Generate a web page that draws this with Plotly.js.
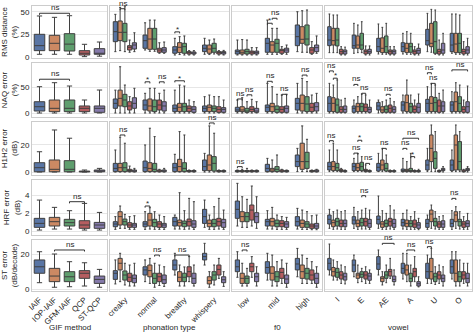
<!DOCTYPE html>
<html><head><meta charset="utf-8">
<script src="https://cdn.plot.ly/plotly-3.0.1.min.js"></script>
<style>html,body{margin:0;padding:0;background:#fff}#chart{width:474px;height:333px}</style>
</head><body><div id="chart"></div>
<script>
const methods = ['IAIF','IOP-IAIF','GFM-IAIF','QCP','ST-QCP'];
const phonation = ['creaky','normal','breathy','whispery'];
const f0 = ['low','mid','high'];
const vowels = ['I','E','AE','A','U','O'];
const factorLabels = ['GIF method','phonation type','f0','vowel'];
const metricLabels = ['RMS distance<br>(%)','NAQ error<br>(%)','H1H2 error<br>(dB)','HRF error<br>(dB)','ST error<br>(dB/decade)'];
const rmsTicks = [0,25,50];
const naqTicks = [0,50];
const h12Ticks = [0,20];
const hrfTicks = [0,2,4];
const stTicks = [0,20];

// each box: [lower whisker, q1, median, q3, upper whisker]
const rms_gif = [[3.3,7.3,12.8,25.3,45.5],[3.3,7.3,15.4,24.2,44],[3.3,6.9,14.5,26,45.8],[0.7,2.5,4.4,7.3,14.3],[1.2,3.3,4.4,9.5,16.8]];
const rms_phon = [
 [[6.2,17.2,28.2,39.2,47.3],[7.3,18.3,27.5,40,55],[6.2,17.2,27.5,37.4,55.7],[5.5,8,11,12.8,19],[6.2,9.1,13.5,16,27]],
 [[8,9.9,18.3,24.5,38],[6.6,8.8,20.1,31.9,41],[6.6,8.8,20.1,31.9,41],[4.4,5.5,8,9.9,16],[4.4,5.5,8,10.6,16.8]],
 [[2.5,4.4,8,11.7,20.9],[3,5.1,11,16.1,22.7],[2.5,4.4,11.7,15.4,23.5],[2.5,3.6,5.1,6.2,7.3],[2.5,3.6,4.6,5.8,7.3]],
 [[3.3,6.2,9.9,13.5,20.9],[3,4.4,9.1,13.5,19],[3.6,5.5,9.9,15.4,20.1],[2.5,3.6,5.1,6.2,7.3],[2.5,3.6,5.1,6.2,7.6]]];
const rms_f0 = [
 [[2.5,3.6,6.2,8,19],[2.5,3.6,5.5,8,19.5],[2.5,3.6,6.2,8.8,19],[2.5,3.6,5.5,6.8,10.6],[2.5,3.6,5.1,6.8,10.6]],
 [[3.3,5.5,15.4,20.9,41],[3.3,5.5,13.5,17.2,31.9],[3.3,5.5,15.4,19.8,31.9],[3.3,4.4,7.3,8.8,11.7],[3.3,5.5,8,10,13.5]],
 [[6.2,12.8,22.7,35.6,50.2],[5.5,15.4,19.8,33.7,51.3],[5.5,13.5,20.1,35.6,52.1],[3.3,4.4,8,10.6,17.2],[4.4,6.2,10.6,13.5,23.5]]];
const rms_vowel = [
 [[5.1,12.8,19,33.7,47.7],[5.1,13.5,18.3,31.9,46.6],[5.1,12.5,19,31.9,46.6],[2.5,3.6,6.2,8.8,11.7],[2.5,3.6,6.2,8,11.2]],
 [[4.4,9.9,12.8,24.5,37.4],[5.1,9.9,13.5,23.5,35.6],[5.1,8.8,13.5,26.4,39.2],[2.5,3.6,6.2,8,12.5],[2.5,4.4,6.2,8.8,12.5]],
 [[3.6,6.2,11.7,20.9,36.7],[3.3,5.1,9.9,21.4,33],[3.3,5.1,11.7,23.5,37.4],[2.5,3.6,6.2,8,11.7],[2.5,3.6,6.2,8,11.7]],
 [[3.6,6.2,11.7,16.1,26.4],[3.3,5.1,9.9,15.4,28.2],[3.3,5.5,11.7,15.4,26.4],[2.5,3.6,6.2,8,11.7],[2.5,4.4,7.3,9.9,14.6]],
 [[6.2,13.5,18.3,30.8,48.4],[5.5,11.7,15.4,37.4,52.8],[3.3,4.4,17.2,39.2,52.1],[2.5,3.6,6.2,8.8,19],[2.5,4.4,8,15.4,26.4]],
 [[4.4,6.2,13.5,26.4,47.7],[3.3,5.1,14.6,26.4,47.7],[3.3,5.1,15.4,26.4,46.6],[2.5,3.6,6.2,8.8,17.2],[2.5,4.4,8,11.7,20.9]]];

const naq_gif = [[0,3.8,12.1,21.7,50.6],[0,2.6,9,25,58.3],[0,2.6,9,25,51.9],[0,2.6,9,13.5,25],[0,1.3,9,13.5,44.2]];
const naq_phon = [
 [[0,9,18.6,27,44],[0,13.5,28.2,44,89],[0,12.1,25,35.9,53.8],[0,5.8,13.5,21.7,31.4],[0,9,18.6,29.4,47.5]],
 [[0,5.8,15.4,25,37.9],[0,3.8,13.5,27,47.5],[0,2.6,12.1,25,47.5],[0,5.8,15.4,25,37.9],[0,3.8,13.5,21.7,44]],
 [[0,2.6,9,15.4,44],[0,2.6,11,18.6,53.8],[0,2.6,12.1,18.6,51.9],[0,2.6,9,13.5,25],[0,1.3,7,12.1,21.7]],
 [[0,2.6,9,13.5,31.4],[0,2.6,11,15.4,34.6],[0,2.6,9,13.5,31.4],[0,1.3,7,12.1,31.4],[0,1.3,7,10.3,25]]];
const naq_f0 = [
 [[0,2.6,5.8,11,25],[0,2.6,5.8,12.1,29.4],[0,1.3,3.8,9,21.7],[0,2.6,7,12.1,26.3],[0,1.3,3.8,9,21.7]],
 [[0,2.6,11,15.4,57],[0,2.6,12.1,18.6,50.6],[0,1.3,7,13.5,36],[0,1.3,7,12.1,34.6],[0,1.3,9,13.5,36]],
 [[0,5.8,18.6,28.2,57],[0,3.8,18.6,34.6,66.7],[0,2.6,17.3,31.4,60.3],[0,2.6,11,18.6,34.6],[0,3.8,12.1,19.9,37.8]]];
const naq_vowel = [
 [[0,2.6,18.6,31.4,57],[0,2.6,18.6,29.4,53.8],[0,1.3,15.4,27,63.5],[0,1.3,7,12.1,25],[0,1.3,7,13.5,28.2]],
 [[0,1.3,9,13.5,25],[0,2.6,12.1,18.6,31.4],[0,2.6,12.1,18.6,36.5],[0,2.6,11,17.3,34.6],[0,1.3,7,11,25]],
 [[0,5.8,13.5,20.5,25],[0,1.3,5.8,12.1,21.7],[0,1.3,7,13.5,25],[0,1.3,9,15.4,28.2],[0,1.3,7,12.1,21.7]],
 [[0,3.8,15.4,21.7,34.6],[0,2.6,19.9,34.6,63.5],[0,1.3,12.1,18.6,34.6],[0,1.3,7,13.5,25],[0,1.3,11,18.6,36.5]],
 [[0,2.6,18.6,26.3,50.6],[0,2.6,18.6,31.4,57],[0,2.6,19.9,30,53.8],[0,1.3,13.5,25,37.8],[0,2.6,13.5,21.7,44.2]],
 [[0,2.6,15.4,21.7,41],[0,2.6,21.7,40.4,58.3],[0,2.6,18.6,31.4,53.8],[0,1.3,7,12.1,25],[0,1.3,12.1,21.7,51.9]]];

const h12_gif = [[0,0.2,3.2,6.9,15],[0,0.2,2,8.9,31.1],[0,0.2,2,8.4,25],[0,0.1,0.3,0.7,1.5],[0,0.2,0.8,1.5,2.7]];
const h12_phon = [
 [[0,0.3,2.7,6.4,16.3],[0,0.3,3.2,6.4,25.7],[0,0.3,3.2,6.9,21.3],[0,0.3,1.1,2,4.4],[0,0.2,0.8,1.5,2.7]],
 [[0,0.3,3.2,8.1,20],[0,0.3,2.7,6.9,32.4],[0,0.3,2,6.4,26.2],[0,0.2,0.8,1.5,2],[0,0.2,0.8,1.5,2.7]],
 [[0,0.3,3.2,6.4,13.1],[0,0.3,4,9.4,29.9],[0,0.3,2.7,6.9,27.4],[0,0.2,0.6,1.1,1.5],[0,0.2,0.6,1.1,1.5]],
 [[0,1,4,8.9,13.8],[0,1,5.2,12.6,34.1],[0,0.7,6.4,11.4,28.7],[0,0.2,0.6,1.1,1.5],[0,0.2,0.6,1.1,1.5]]];
const h12_f0 = [
 [[0,0.2,0.6,1.1,1.5],[0,0.2,0.6,1.1,2],[0,0.2,0.6,1.1,2.7],[0,0.2,0.6,1.1,1.5],[0,0.2,0.6,1.1,1.5]],
 [[0,0.3,2.7,5.7,10.1],[0,0.3,1.5,2.7,8.9],[0,0.3,2,4,12.6],[0,0.2,0.8,1.5,2],[0,0.2,0.6,1.1,1.5]],
 [[0.3,4,7.7,12.6,17.5],[0.3,2,7.7,21.3,34.1],[0.3,2.7,7.7,14.6,24.2],[0,0.2,0.6,1.1,1.5],[0,0.2,0.8,1.5,2]]];
const h12_vowel = [
 [[0.3,1.5,4,7.2,16.3],[0.3,1,4,7.7,21.3],[0.3,1,3.2,6.4,16.3],[0,0.3,1.1,2,2.7],[0,0.2,0.6,1.1,1.5]],
 [[0.3,1,4,6.4,10.1],[0.3,1,3.2,6.4,13.8],[0.3,1,4,7.2,11.4],[0,0.3,1.1,2,5.2],[0,0.2,0.6,1.1,1.5]],
 [[0.3,0.7,3.5,6.4,13.8],[0.3,1.5,5.2,8.9,17.5],[0.3,0.7,2.7,6.4,12.6],[0,0.2,0.6,1.1,1.5],[0,0.2,0.6,1.1,1.5]],
 [[0,0.3,1,2.2,10.1],[0,0.3,1,2,7.7],[0,0.3,1,2.7,13.8],[0,0.2,0.6,1.1,1.5],[0,0.2,0.6,1.1,2]],
 [[0.3,1.5,5.2,8.9,17.5],[0.3,7.7,17.5,27.4,34.8],[0.3,2.7,10.1,15,29.9],[0,0.2,0.6,1.1,1.5],[0,1,1.5,2.7,4]],
 [[0.3,1,5.2,8.9,16.3],[0.3,1.5,20,27.4,34.8],[0.3,1.5,7.7,22.5,29.9],[0,0.2,0.6,1.5,2],[0,1,1.5,2.7,4]]];

const hrf_gif = [[0.11,0.41,0.85,1.41,3.44],[0.22,0.56,1.04,1.52,2.63],[0.22,0.56,0.93,1.3,2.26],[0.11,0.3,0.67,1.15,3.07],[0.11,0.3,0.67,0.96,2.07]];
const hrf_phon = [
 [[0.19,0.48,0.78,1.04,1.6],[0.3,0.67,1.6,2.15,2.78],[0.3,0.67,1.04,1.33,1.85],[0.19,0.41,0.67,0.93,1.6],[0.19,0.41,0.67,0.85,1.7]],
 [[0.19,0.48,0.78,1.04,2.15],[0.22,0.56,1.22,1.96,2.59],[0.19,0.48,0.93,1.3,2.15],[0.19,0.41,0.78,1.04,1.78],[0.19,0.41,0.67,0.85,1.6]],
 [[0.22,0.56,1.04,1.52,1.78],[0.22,0.56,0.93,1.22,4.26],[0.19,0.48,0.85,1.11,2.26],[0.22,0.56,1.04,1.33,3.63],[0.19,0.41,0.78,1.15,3.26]],
 [[0.41,0.85,1.6,2.41,3.44],[0.19,0.48,0.85,1.22,1.78],[0.19,0.48,0.85,1.3,2.7],[0.22,0.56,1.04,1.41,3.63],[0.19,0.41,0.93,1.3,2.33]]];
const hrf_f0 = [
 [[0.56,1.41,2.41,3.33,5.3],[0.41,1.04,1.6,2.15,3.81],[0.41,1.04,1.6,2.04,3.52],[0.56,1.22,2.33,2.89,5],[0.3,0.93,1.6,2.04,3.81]],
 [[0.22,0.56,1.04,1.3,2.26],[0.22,0.56,1.04,1.41,2.63],[0.19,0.48,0.85,1.22,1.78],[0.19,0.48,0.85,1.15,1.6],[0.19,0.41,0.78,1.04,1.52]],
 [[0.22,0.56,1.04,1.6,2.52],[0.19,0.41,0.85,1.22,2.33],[0.19,0.41,0.78,1.04,2.15],[0.15,0.3,0.56,0.78,1.7],[0.15,0.3,0.56,0.85,1.78]]];
const hrf_vowel = [
 [[0.3,0.78,1.3,1.78,2.41],[0.19,0.48,0.93,1.22,2.15],[0.22,0.56,1.04,1.41,2.33],[0.19,0.48,0.85,1.22,2.15],[0.19,0.48,0.85,1.22,2.26]],
 [[0.3,0.78,1.22,1.6,2.63],[0.19,0.48,0.85,1.22,2.15],[0.22,0.56,0.93,1.41,2.33],[0.22,0.56,1.04,1.41,2.52],[0.19,0.41,0.85,1.3,2.33]],
 [[0.3,0.78,1.3,1.67,3.89],[0.19,0.41,0.78,1.04,2.26],[0.19,0.48,0.85,1.22,1.96],[0.22,0.56,1.04,1.41,2.81],[0.19,0.41,0.85,1.3,2.33]],
 [[0.22,0.56,0.93,1.3,1.96],[0.19,0.48,0.85,1.22,2.33],[0.19,0.48,0.85,1.15,1.6],[0.19,0.41,0.78,1.22,2.15],[0.15,0.3,0.67,0.93,1.41]],
 [[0.19,0.41,0.85,1.3,1.78],[0.3,1.04,1.89,2.33,2.89],[0.22,0.56,1.04,1.41,2.15],[0.19,0.41,0.78,1.04,1.6],[0.19,0.41,0.78,1.15,1.7]],
 [[0.19,0.48,0.85,1.3,2.26],[0.3,1.04,1.78,2.15,2.7],[0.22,0.56,1.04,1.3,2.15],[0.19,0.41,0.78,1.04,1.6],[0.19,0.48,0.85,1.15,1.96]]];

const st_gif = [[3.6,9,12.7,16.6,21.3],[1,4.2,7.4,11.8,20],[1.3,4.2,7,9.9,15.6],[1.7,6.1,9,10.5,15],[1,3.2,5.5,7.4,11.2]];
const st_phon = [
 [[2.9,5.5,9,10.5,16.6],[4.2,10.9,14.7,17.5,20.4],[2.3,5.1,8,10.3,14.7],[1.7,4.2,6.7,9,13.7],[1.7,3.6,6.1,8,14.7]],
 [[4.2,8,10.9,12.7,16.6],[3.2,7,10.5,13.7,17.5],[1,3.2,6.1,9,14.7],[2,4.2,7,9,13.7],[1.5,3.2,5.3,8,12.7]],
 [[8,10.9,13.7,16.6,20.4],[1.7,4.2,6.7,9.9,13.7],[1.7,4.2,6.7,9,12.6],[4.2,7,9.9,12.7,18.5],[1.7,3.2,6.1,9,13.7]],
 [[13.7,16.6,18.5,20.4,26.1],[1,2.9,4.8,7,9.9],[2.3,5.1,8,9.9,13.7],[6.1,8,11.2,13.7,17.5],[1.5,3.6,5.3,7,9.9]]];
const st_f0 = [
 [[6.7,9.9,12.7,16.6,21.3],[1.7,3.2,6.1,9,14.7],[1.7,3.2,6.1,7.4,11.8],[6.7,9.9,12.7,14.7,18.5],[1.7,4.2,7,9,12.7]],
 [[5.1,9,12.3,15.6,20.4],[1.7,5.1,9,12.7,19.4],[1.7,4.2,7,9.9,15.6],[3.2,6.1,9.5,11.8,16.6],[1,3.2,5.7,8,14.7]],
 [[7,10.9,14.3,17.5,23.2],[3.2,6.1,9.9,13.7,19.4],[3.2,5.7,9,11.8,17.5],[3.2,5.1,8,10.9,15.6],[1,3.2,6.1,9,12.7]]];
const st_vowel = [
 [[8,10.9,14.7,17.5,25.7],[5.1,7.4,9.9,12.3,16.6],[5.1,6.7,9.5,11.8,15.6],[3.2,5.7,8,9.9,13.7],[2.9,5.1,7,9,12.7]],
 [[7,9.9,13.7,16.6,19.4],[3.6,6.1,8,9,13.7],[4.2,6.7,8.4,9.9,11.8],[3.2,5.7,8,9.9,12.7],[3.2,5,7.4,9,10.9]],
 [[8,11.2,14.3,18.5,22.3],[2.3,4.2,6.1,7,9.9],[3.6,6.1,8,9.9,13.7],[6.1,7.4,9.9,11.2,17.5],[2.3,4.2,5.5,7.4,10.9]],
 [[5.7,9,11.8,14.7,20.4],[4.2,8,10.9,13.7,20.4],[1.7,4.2,6.1,9,13.7],[4.2,7,9.9,11.8,18.5],[1.2,1.7,3,4.2,7]],
 [[3.2,6.1,9.9,14.7,19.4],[3.2,5.7,9.9,17.5,23.2],[2.6,4.2,7,9,12.7],[3.2,5.7,8,9.9,13.7],[1.7,4.2,6.1,8,12.7]],
 [[5.7,9,12.7,16.6,21.3],[1.7,4.2,9,16.6,21.3],[1.7,4.2,7,9.9,16.6],[3.2,5.7,8,9.9,14.7],[1.7,3.6,6.1,9,14.7]]];

// significance brackets: [facet, category, box A, box B, level, label]
const rms_sig = [[0,0,0,2,48.5,'ns'],[1,0,1,2,53.5,'ns'],[1,2,0,1,28,'*'],[2,1,0,1,37.5,'*'],[2,1,1,2,43,'ns']];
const naq_sig = [[0,0,0,2,65,'ns'],[1,1,0,1,60,'*'],[1,1,3,4,60,'ns'],[1,2,0,2,62,'*'],[2,0,0,1,27,'ns'],[2,0,2,3,35,'ns'],[2,1,0,1,61,'ns'],[2,1,3,4,36,'ns'],[2,2,1,2,73,'ns'],[3,0,0,1,81,'ns'],[3,0,1,2,67,'*'],[3,1,0,1,55,'ns'],[3,1,2,3,38,'ns'],[3,2,2,3,36,'ns'],[3,4,0,1,77.5,'ns'],[3,4,1,2,57,'ns'],[3,5,0,4,83,'ns']];
const h12_sig = [[1,0,1,2,27.4,'ns'],[1,3,1,2,36.3,'ns'],[2,0,0,1,4,'ns'],[3,0,0,1,23.2,'ns'],[3,1,0,1,14,'ns'],[3,1,1,2,23.5,'*'],[3,1,3,4,6.4,'ns'],[3,2,1,2,17.5,'ns'],[3,3,0,4,25,'ns'],[3,3,0,1,17.5,'ns'],[3,3,2,3,11.4,'*']];
const hrf_sig = [[0,0,2,3,3.26,'ns'],[1,1,0,1,2.78,'*'],[3,1,2,3,3.93,'ns'],[3,5,0,1,3.63,'ns']];
const st_sig = [[0,0,1,3,22.3,'ns'],[1,1,2,3,19.4,'ns'],[1,2,0,3,19.4,'ns'],[2,0,1,2,22.3,'ns'],[3,2,1,4,26.1,'ns'],[3,3,1,3,22.3,'ns'],[3,4,0,1,24.2,'ns']];

const COLORS = ['#5975a4','#cc8963','#5f9e6e','#b55d60','#857aab'];
const LINE = '#3f3f3f';
const TEXT = '#262626';
const FONT = 'Arial, "Liberation Sans", sans-serif';
const cats = [methods, phonation, f0, vowels];
const rows = [
  {data:[rms_gif,rms_phon,rms_f0,rms_vowel], sig:rms_sig, ticks:rmsTicks, range:[-0.8,56.5]},
  {data:[naq_gif,naq_phon,naq_f0,naq_vowel], sig:naq_sig, ticks:naqTicks, range:[-7.7,96.2]},
  {data:[h12_gif,h12_phon,h12_f0,h12_vowel], sig:h12_sig, ticks:h12Ticks, range:[-2.2,37]},
  {data:[hrf_gif,hrf_phon,hrf_f0,hrf_vowel], sig:hrf_sig, ticks:hrfTicks, range:[-0.44,5.67]},
  {data:[st_gif,st_phon,st_f0,st_vowel], sig:st_sig, ticks:stTicks, range:[-1.14,28]}
];
const xdom = [[32/474,107/474],[110/474,229/474],[232/474,322/474],[325/474,472/474]];
const ypx = [[6,58],[63,117],[122,175],[180,235],[240,291]];

const traces = [];
const layout = {
  width:474, height:333, margin:{l:0,r:0,t:0,b:0},
  paper_bgcolor:'#fff', plot_bgcolor:'#fff', showlegend:false,
  boxmode:'group', boxgap:0.2, boxgroupgap:0.12,
  font:{family:FONT, size:8, color:TEXT},
  shapes:[], annotations:[]
};

rows.forEach((row, r) => {
  for (let c = 0; c < 4; c++) {
    const k = r*4 + c + 1;
    const xs = k === 1 ? '' : String(k);
    const xa = 'x' + xs, ya = 'y' + xs;
    const d = row.data[c];
    if (c === 0) {
      methods.forEach((m, i) => {
        traces.push({type:'box', x:[m], lowerfence:[d[i][0]], q1:[d[i][1]], median:[d[i][2]], q3:[d[i][3]], upperfence:[d[i][4]],
          xaxis:xa, yaxis:ya, name:m, offsetgroup:'single', fillcolor:COLORS[i], line:{color:LINE, width:1},
          whiskerwidth:0.5, boxpoints:false, hoverinfo:'y'});
      });
    } else {
      methods.forEach((m, i) => {
        traces.push({type:'box', x:cats[c], lowerfence:d.map(g=>g[i][0]), q1:d.map(g=>g[i][1]), median:d.map(g=>g[i][2]),
          q3:d.map(g=>g[i][3]), upperfence:d.map(g=>g[i][4]),
          xaxis:xa, yaxis:ya, name:m, offsetgroup:'m'+i, fillcolor:COLORS[i], line:{color:LINE, width:1},
          whiskerwidth:0.5, boxpoints:false, hoverinfo:'y'});
      });
    }
    layout['xaxis'+xs] = {domain:xdom[c], anchor:ya, type:'category', categoryorder:'array', categoryarray:cats[c],
      showticklabels:r===4, tickangle:-45, tickfont:{size:8, color:TEXT}, ticks:'', showgrid:false,
      showline:true, mirror:true, linecolor:'#cccccc', linewidth:1, zeroline:false, fixedrange:true};
    layout['yaxis'+xs] = {domain:[1-ypx[r][1]/333, 1-ypx[r][0]/333], anchor:xa, range:row.range, tickvals:row.ticks,
      showticklabels:c===0, tickfont:{size:8, color:TEXT}, ticks:'', showgrid:true, gridcolor:'#e6e6e6', gridwidth:1,
      showline:true, mirror:true, linecolor:'#cccccc', linewidth:1, zeroline:false, fixedrange:true,
      title: c===0 ? {text:metricLabels[r], font:{size:8, color:TEXT}, standoff:3} : undefined};
  }
  // significance brackets
  const span = row.range[1] - row.range[0];
  row.sig.forEach(s => {
    const [c, cat, a, b, lvl, txt] = s;
    const k = r*4 + c + 1;
    const xs = k === 1 ? '' : String(k);
    const pos = h => c === 0 ? h : cat + (h - 2) * 0.16;
    const x1 = pos(a), x2 = pos(b), tick = span * 0.03;
    const base = {type:'line', xref:'x'+xs, yref:'y'+xs, line:{color:'#333', width:1}};
    layout.shapes.push(Object.assign({x0:x1, x1:x2, y0:lvl, y1:lvl}, base));
    layout.shapes.push(Object.assign({x0:x1, x1:x1, y0:lvl-tick, y1:lvl}, base));
    layout.shapes.push(Object.assign({x0:x2, x1:x2, y0:lvl-tick, y1:lvl}, base));
    layout.annotations.push({xref:'x'+xs, yref:'y'+xs, x:(x1+x2)/2, y:lvl, text:txt, showarrow:false,
      yanchor:'bottom', yshift: txt === '*' ? -4 : -1, font:{size:8, color:TEXT}});
  });
});

factorLabels.forEach((t, c) => {
  layout.annotations.push({xref:'paper', yref:'paper', x:(xdom[c][0]+xdom[c][1])/2, y:1-327/333, text:t,
    showarrow:false, xanchor:'center', yanchor:'middle', font:{size:8, color:TEXT}});
});

Plotly.newPlot('chart', traces, layout, {displayModeBar:false, staticPlot:true});
</script>
</body></html>
